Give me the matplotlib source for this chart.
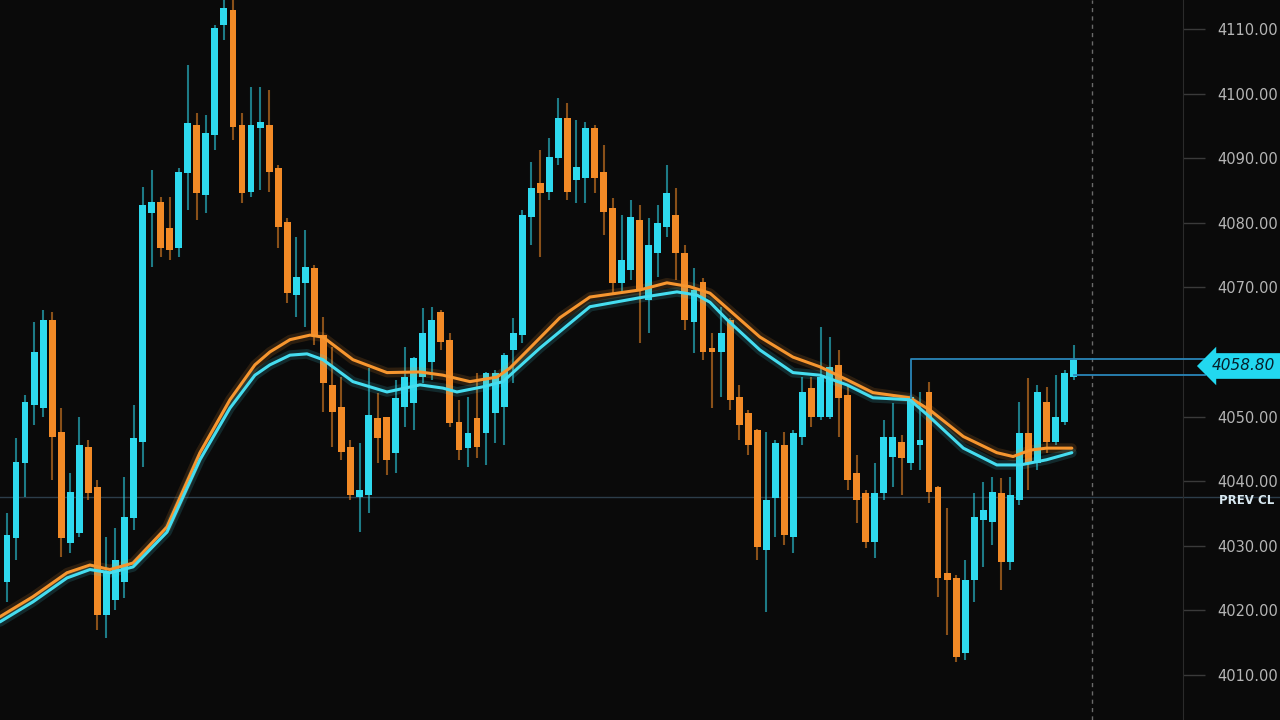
"""Dark candlestick chart with two moving averages and a right price scale."""

import matplotlib

matplotlib.use("Agg")

import matplotlib.pyplot as plt
import numpy as np

# OHLC per bar
opens = [
    4024.4, 4031.2, 4042.8, 4051.8, 4051.3, 4065.0, 4047.6, 4030.4, 4032.0, 4045.3,
    4039.1, 4019.3, 4021.6, 4024.3, 4034.3, 4046.1, 4081.5, 4083.2, 4079.2, 4076.1,
    4087.7, 4095.2, 4084.3, 4093.6, 4110.6, 4113.0, 4095.2, 4084.8, 4094.7, 4095.2,
    4088.5, 4080.1, 4068.8, 4070.7, 4073.0, 4062.6, 4054.9, 4051.5, 4045.3, 4037.6,
    4037.9, 4049.8, 4049.9, 4044.4, 4051.5, 4052.1, 4056.1, 4058.5, 4066.2, 4061.9,
    4049.2, 4045.1, 4049.8, 4047.5, 4050.6, 4051.5, 4060.3, 4062.6, 4080.9, 4086.2,
    4084.8, 4090.0, 4096.2, 4086.6, 4087.0, 4094.7, 4087.9, 4082.3, 4070.7, 4072.7,
    4080.4, 4068.1, 4075.3, 4079.4, 4081.2, 4075.3, 4064.7, 4070.8, 4060.6, 4060.0,
    4065.0, 4053.0, 4050.6, 4047.9, 4029.4, 4037.4, 4045.6, 4031.4, 4046.9, 4054.4,
    4049.9, 4049.9, 4058.0, 4053.3, 4041.3, 4038.2, 4030.6, 4038.2, 4043.8, 4046.1,
    4042.8, 4045.6, 4053.8, 4039.1, 4025.8, 4025.0, 4013.4, 4024.7, 4034.0, 4033.7,
    4038.2, 4027.5, 4037.1, 4047.5, 4042.8, 4052.3, 4046.1, 4049.2, 4056.1,
]
highs = [
    4035.1, 4046.7, 4053.3, 4064.7, 4066.5, 4066.2, 4051.3, 4041.3, 4049.9, 4046.4,
    4040.2, 4031.4, 4032.8, 4040.7, 4051.8, 4085.6, 4088.2, 4084.0, 4084.0, 4088.5,
    4104.4, 4097.0, 4096.7, 4110.6, 4115.5, 4115.5, 4097.0, 4101.0, 4101.0, 4100.6,
    4089.0, 4080.8, 4077.8, 4078.9, 4073.5, 4065.4, 4060.8, 4056.1, 4046.4, 4045.9,
    4057.5, 4053.7, 4050.0, 4055.7, 4060.8, 4059.2, 4066.8, 4067.0, 4066.5, 4062.9,
    4052.6, 4053.0, 4056.8, 4056.9, 4057.2, 4059.9, 4065.3, 4082.0, 4089.4, 4091.3,
    4093.1, 4099.3, 4098.6, 4095.9, 4095.6, 4095.2, 4092.1, 4083.9, 4081.2, 4083.5,
    4082.8, 4080.8, 4082.8, 4089.0, 4085.4, 4076.6, 4073.0, 4071.5, 4062.9, 4067.0,
    4065.3, 4054.9, 4051.0, 4048.1, 4047.6, 4046.4, 4047.6, 4047.9, 4056.1, 4056.1,
    4063.9, 4062.3, 4060.3, 4054.9, 4044.1, 4038.6, 4042.8, 4049.5, 4052.1, 4047.2,
    4053.3, 4053.8, 4055.4, 4039.3, 4035.9, 4025.5, 4027.8, 4038.2, 4039.9, 4040.7,
    4040.5, 4040.7, 4052.3, 4056.0, 4054.9, 4054.6, 4056.4, 4057.2, 4061.1,
]
lows = [
    4021.2, 4027.8, 4037.6, 4048.7, 4049.9, 4040.2, 4028.3, 4028.9, 4031.4, 4037.1,
    4017.0, 4015.7, 4020.1, 4021.9, 4032.5, 4042.2, 4073.2, 4074.7, 4074.3, 4074.7,
    4082.0, 4080.4, 4081.5, 4091.3, 4108.3, 4092.8, 4083.1, 4084.0, 4085.1, 4084.8,
    4076.1, 4067.6, 4065.4, 4063.9, 4061.1, 4050.7, 4045.2, 4043.3, 4037.1, 4032.1,
    4035.1, 4042.8, 4041.0, 4041.3, 4048.4, 4047.9, 4055.2, 4055.7, 4060.3, 4048.4,
    4043.3, 4042.2, 4043.6, 4042.5, 4045.9, 4045.6, 4055.2, 4061.4, 4076.6, 4074.7,
    4083.5, 4089.0, 4083.5, 4083.1, 4083.1, 4084.6, 4078.1, 4069.1, 4069.3, 4071.2,
    4061.4, 4062.9, 4071.6, 4077.8, 4071.2, 4063.4, 4059.9, 4058.8, 4051.3, 4053.0,
    4051.0, 4046.4, 4044.1, 4027.8, 4019.8, 4031.4, 4030.1, 4028.9, 4045.6, 4048.4,
    4049.5, 4049.6, 4046.9, 4038.6, 4033.5, 4029.7, 4028.1, 4037.1, 4039.1, 4037.9,
    4041.7, 4041.7, 4036.6, 4022.1, 4016.2, 4012.0, 4012.3, 4021.3, 4026.7, 4030.1,
    4023.2, 4026.3, 4036.3, 4038.6, 4041.7, 4044.4, 4045.6, 4048.7, 4055.7,
]
closes = [
    4031.7, 4043.0, 4052.3, 4060.0, 4065.0, 4046.9, 4031.2, 4038.3, 4045.6, 4038.2,
    4019.3, 4025.8, 4027.8, 4034.5, 4046.7, 4082.8, 4083.2, 4076.1, 4075.8, 4087.9,
    4095.5, 4084.6, 4093.9, 4110.2, 4113.3, 4094.8, 4084.6, 4095.2, 4095.6, 4087.9,
    4079.4, 4069.1, 4071.6, 4073.2, 4062.6, 4055.2, 4050.7, 4044.5, 4037.9, 4038.6,
    4050.3, 4046.7, 4043.3, 4052.9, 4056.1, 4059.1, 4062.9, 4065.0, 4061.6, 4049.0,
    4044.8, 4047.5, 4045.3, 4056.8, 4056.8, 4059.5, 4062.9, 4081.2, 4085.4, 4084.6,
    4090.2, 4096.2, 4084.8, 4088.6, 4094.7, 4087.0, 4081.7, 4070.7, 4074.3, 4080.9,
    4069.6, 4076.6, 4080.0, 4084.6, 4075.3, 4065.0, 4069.6, 4060.0, 4060.0, 4062.9,
    4052.6, 4048.7, 4045.6, 4029.8, 4037.1, 4045.9, 4031.7, 4047.5, 4053.8, 4049.9,
    4056.1, 4057.7, 4052.9, 4040.2, 4037.1, 4030.6, 4038.2, 4046.9, 4046.9, 4043.6,
    4053.0, 4046.4, 4038.3, 4025.0, 4024.7, 4012.8, 4024.7, 4034.5, 4035.5, 4038.3,
    4027.5, 4037.9, 4047.5, 4042.8, 4053.8, 4046.1, 4049.9, 4056.8, 4058.8,
]

# moving averages, sampled at bar positions
ma_orange_x = [
    -0.77, 2.88, 6.64, 9.18, 11.39, 13.94, 17.70, 21.35, 24.67, 27.43, 29.09,
    31.31, 33.52, 34.96, 38.27, 42.04, 45.69, 48.23, 51.22, 54.20, 55.64, 57.85,
    61.17, 64.49, 70.02, 73.01, 75.55, 77.77, 79.65, 83.30, 86.95, 89.93, 92.92,
    95.80, 99.89, 102.1, 105.8, 109.5, 111.3, 113.2, 115.0, 117.8,
]
ma_orange = [
    4019.0, 4022.1, 4025.8, 4027.0, 4026.3, 4027.3, 4032.9, 4044.4, 4052.6, 4058.0,
    4060.0, 4061.9, 4062.6, 4062.3, 4058.8, 4056.8, 4056.9, 4056.4, 4055.4, 4056.1,
    4057.5, 4060.6, 4065.3, 4068.5, 4069.6, 4070.7, 4070.1, 4069.1, 4066.8, 4062.3,
    4059.2, 4057.7, 4055.7, 4053.7, 4052.9, 4051.0, 4046.9, 4044.4, 4043.8, 4044.8,
    4045.1, 4045.1,
]
ma_cyan_x = [
    -0.77, 2.88, 6.64, 9.18, 11.39, 13.94, 17.70, 21.35, 24.67, 27.43, 29.09,
    31.31, 33.19, 34.96, 38.27, 42.04, 45.69, 48.23, 49.78, 52.65, 54.87, 58.96,
    64.49, 70.02, 74.12, 76.33, 77.77, 79.65, 83.30, 86.95, 89.93, 92.92, 95.80,
    99.89, 102.1, 105.8, 109.5, 112.1, 115.0, 117.8,
]
ma_cyan = [
    4018.2, 4021.3, 4025.0, 4026.3, 4025.8, 4026.7, 4032.1, 4043.3, 4051.3, 4056.4,
    4058.0, 4059.5, 4059.7, 4058.8, 4055.4, 4053.8, 4054.9, 4054.4, 4053.8, 4054.6,
    4055.4, 4060.6, 4067.0, 4068.4, 4069.3, 4068.8, 4067.7, 4065.0, 4060.3, 4056.8,
    4056.4, 4054.9, 4052.9, 4052.6, 4049.9, 4045.1, 4042.5, 4042.5, 4043.3, 4044.4,
]

y_ticks = [4110, 4100, 4090, 4080, 4070, 4050, 4040, 4030, 4020, 4010]
prev_close = 4037.6
prev_label = "PREV CL"
last_label = "4058.80"
price_line = 4058.9
price_line_low = 4052.9
price_line_start = 100
open_line = 4056.4
cursor_bar = 120

BG = "#0a0a0a"
UP = "#2ED9EE"
DOWN = "#F28A26"
MA_ORANGE = "#F7962F"
MA_CYAN = "#45DDF0"
LEVEL = "#2a86b8"

fig = plt.figure(figsize=(12.8, 7.2), dpi=100, facecolor=BG)
ax = fig.add_axes([0, 0, 1183 / 1280, 1], facecolor=BG)

x = np.arange(len(closes))
o = np.array(opens)
h = np.array(highs)
l = np.array(lows)
c = np.array(closes)
colors = np.where(c >= o, UP, DOWN)

ax.vlines(x, l, h, colors=colors, linewidth=1.5, alpha=0.55, zorder=2)
ax.bar(x, np.maximum(np.abs(c - o), 0.6), bottom=np.minimum(o, c), width=0.76,
       color=colors, zorder=3)

for xs, ys, col in [(ma_orange_x, ma_orange, MA_ORANGE), (ma_cyan_x, ma_cyan, MA_CYAN)]:
    ax.plot(xs, ys, color=col, lw=7, alpha=0.15, solid_capstyle="round", zorder=4)
    ax.plot(xs, ys, color=col, lw=2.2, solid_capstyle="round", zorder=5)

# reference lines
ax.plot([-1, 141], [prev_close, prev_close], color="#2c3d4a", lw=1, zorder=1, clip_on=False)
ax.axvline(cursor_bar, color="#6a6a6a", lw=1, ls=(0, (3, 3)), zorder=1)
ax.plot([price_line_start, price_line_start, 132.5], [price_line_low, price_line, price_line],
        color=LEVEL, lw=1.3, zorder=6, clip_on=False)
ax.plot([len(closes) - 1, 132.5], [open_line, open_line], color=LEVEL, lw=1.3,
        zorder=6, clip_on=False)

ax.set_xlim(-0.77, 130.1)
ax.set_ylim(4003.0, 4114.5)
ax.set_xticks([])
ax.yaxis.tick_right()
ax.set_yticks(y_ticks)
ax.set_yticklabels([f"{v:.2f}" for v in y_ticks])
ax.tick_params(axis="y", length=16, width=1, color="#3a3a3a", labelcolor="#b5b5b5",
               labelsize=10.5, pad=9)
for side in ["top", "bottom", "left"]:
    ax.spines[side].set_visible(False)
ax.spines["right"].set_color("#2b2b2b")

fig.text(1243 / 1280, 1 - 366 / 720, last_label, ha="center", va="center", fontsize=11,
         color="#06202c", style="italic",
         bbox=dict(boxstyle="larrow,pad=0.35", fc="#22D8F0", ec="none"))
fig.text(1247 / 1280, 1 - 500 / 720, prev_label, ha="center", va="center", fontsize=8.5,
         color="#d8e8f0", fontweight="bold")

fig.savefig("out.png", dpi=100, facecolor=BG)
